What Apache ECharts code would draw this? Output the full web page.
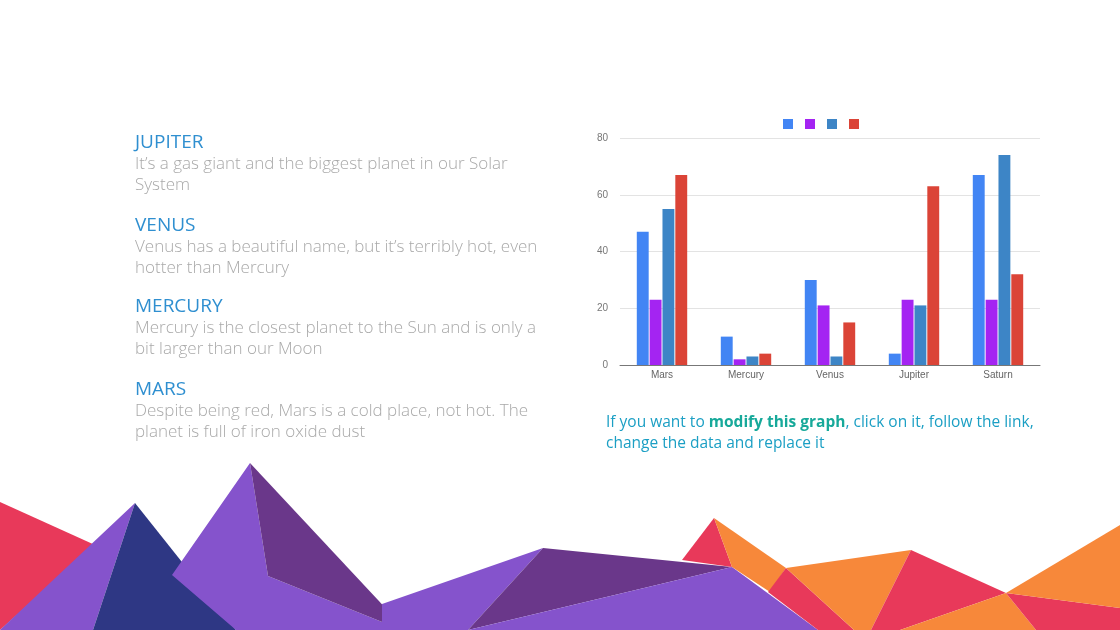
<!DOCTYPE html>
<html>
<head>
<meta charset="utf-8">
<script src="https://cdn.jsdelivr.net/npm/echarts@6/dist/echarts.min.js"></script>
<style>
  html, body { margin: 0; padding: 0; background: #fff; }
  #chart { width: 1120px; height: 630px; position: absolute; left: 0; top: 0; }
  .txt { position: absolute; font-family: "Open Sans", sans-serif; }
  .left { left: 135px; width: 420px; }
  .left h3 { margin: 0; font-weight: 400; font-size: 19px; color: #2f8fd0; line-height: 22px; }
  .left p { margin: 0; font-weight: 300; font-size: 17px; color: #a9a9a9; line-height: 21px; }
  .note { left: 606px; top: 411px; width: 440px; font-size: 15.5px; color: #1b9fc4; line-height: 21px; }
  .note b { color: #17a99a; }
</style>
</head>
<body>
<div id="chart"></div>
<div class="txt left" style="top:130px"><h3>JUPITER</h3><p>It’s a gas giant and the biggest planet in our Solar System</p></div>
<div class="txt left" style="top:213px"><h3>VENUS</h3><p>Venus has a beautiful name, but it’s terribly hot, even hotter than Mercury</p></div>
<div class="txt left" style="top:294px"><h3>MERCURY</h3><p>Mercury is the closest planet to the Sun and is only a bit larger than our Moon</p></div>
<div class="txt left" style="top:377px"><h3>MARS</h3><p>Despite being red, Mars is a cold place, not hot. The planet is full of iron oxide dust</p></div>
<div class="txt note">If you want to <b>modify this graph</b>, click on it, follow the link, change the data and replace it</div>
<script>
var categories = ['Mars', 'Mercury', 'Venus', 'Jupiter', 'Saturn'];
var series1 = [47, 10, 30, 4, 67];
var series2 = [23, 2, 21, 23, 23];
var series3 = [55, 3, 3, 21, 74];
var series4 = [67, 4, 15, 63, 32];
var colors = ['#4285f4', '#a424f2', '#3d85c6', '#db4437'];

// decorative mountains
var shapes = [
    ['#e8395a', [[0, 502], [95, 545], [0, 630]]],
    ['#8553cc', [[0, 630], [135, 503], [93, 630]]],
    ['#2e3784', [[135, 503], [93, 630], [236, 630]]],
    ['#8553cc', [[250, 463], [172, 575], [236, 630], [402, 630], [268, 576]]],
    ['#6a378a', [[250, 463], [268, 576], [402, 630], [406, 630]]],
    ['#8553cc', [[382, 604], [543, 548], [468, 630], [382, 630]]],
    ['#6a378a', [[543, 548], [732, 567], [468, 630]]],
    ['#8553cc', [[468, 630], [732, 567], [818, 630]]],
    ['#e8395a', [[714, 518], [682, 560], [732, 567]]],
    ['#f7883a', [[714, 518], [786, 568], [770, 592], [732, 567]]],
    ['#e8395a', [[786, 568], [768, 592], [818, 630], [854, 630]]],
    ['#f7883a', [[786, 568], [911, 550], [871, 630], [854, 630]]],
    ['#e8395a', [[911, 550], [1006, 593], [900, 630], [871, 630]]],
    ['#f7883a', [[1006, 593], [1036, 630], [900, 630]]],
    ['#e8395a', [[1006, 593], [1120, 608], [1120, 630], [1036, 630]]],
    ['#f7883a', [[1120, 525], [1006, 593], [1120, 608]]]
];

var chart = echarts.init(document.getElementById('chart'));
var names = ['A', 'B', 'C', 'D'];
var data = [series1, series2, series3, series4];
chart.setOption({
    legend: {
        top: 114, left: 778, icon: 'rect', itemWidth: 10, itemHeight: 10, itemGap: 12,
        formatter: function () { return ''; }, textStyle: { padding: 0 }
    },
    grid: { left: 620, right: 80, top: 138, bottom: 265 },
    xAxis: {
        type: 'category', data: categories,
        axisLine: { lineStyle: { color: '#777' } }, axisTick: { show: false },
        axisLabel: { color: '#666', fontSize: 10, margin: 5 }
    },
    yAxis: {
        type: 'value', min: 0, max: 80, interval: 20,
        axisLabel: { color: '#777', fontSize: 10, margin: 12 },
        splitLine: { lineStyle: { color: '#e3e3e3' } }
    },
    series: names.map(function (n, i) {
        return { name: n, type: 'bar', data: data[i], itemStyle: { color: colors[i] },
                 barGap: '8%', barCategoryGap: '40%' };
    }),
    graphic: shapes.map(function (s) {
        return { type: 'polygon', shape: { points: s[1] }, style: { fill: s[0] }, silent: true };
    })
});
</script>
</body>
</html>
